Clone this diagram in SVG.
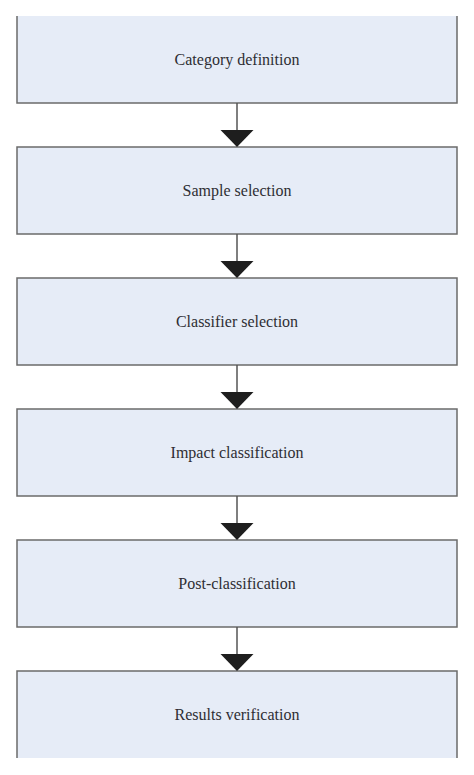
<svg xmlns="http://www.w3.org/2000/svg" width="474" height="775" viewBox="0 0 474 775">
<style>
.box{fill:#e6ecf7;stroke:none}
.edge{fill:none;stroke:#6b6b6b;stroke-width:1.5}
.lbl{font-family:"Liberation Serif",serif;font-size:16px;fill:#2e2e33;text-anchor:middle}
.conn{stroke:#555;stroke-width:1.5;fill:none}
.head{fill:#1e1e1e}
</style>
<rect width="474" height="775" fill="#fff"/>
<g id="n1"><rect class="box" x="17" y="16" width="440" height="87"/><path class="edge" d="M17,16V103H457V16"/><text class="lbl" x="237" y="64.5">Category definition</text></g>
<g id="n2"><rect class="box" x="17" y="147" width="440" height="87"/><path class="edge" d="M17,147H457V234H17Z"/><text class="lbl" x="237" y="195.5">Sample selection</text></g>
<g id="n3"><rect class="box" x="17" y="278" width="440" height="87"/><path class="edge" d="M17,278H457V365H17Z"/><text class="lbl" x="237" y="326.5">Classifier selection</text></g>
<g id="n4"><rect class="box" x="17" y="409" width="440" height="87"/><path class="edge" d="M17,409H457V496H17Z"/><text class="lbl" x="237" y="457.5">Impact classification</text></g>
<g id="n5"><rect class="box" x="17" y="540" width="440" height="87"/><path class="edge" d="M17,540H457V627H17Z"/><text class="lbl" x="237" y="588.5">Post-classification</text></g>
<g id="n6"><rect class="box" x="17" y="671" width="440" height="87"/><path class="edge" d="M17,758V671H457V758"/><text class="lbl" x="237" y="719.5">Results verification</text></g>
<g id="connectors">
<path class="conn" d="M237,103V131"/><path class="head" d="M220.5,130H253.5L237,147Z"/>
<path class="conn" d="M237,234V262"/><path class="head" d="M220.5,261H253.5L237,278Z"/>
<path class="conn" d="M237,365V393"/><path class="head" d="M220.5,392H253.5L237,409Z"/>
<path class="conn" d="M237,496V524"/><path class="head" d="M220.5,523H253.5L237,540Z"/>
<path class="conn" d="M237,627V655"/><path class="head" d="M220.5,654H253.5L237,671Z"/>
</g>
</svg>
